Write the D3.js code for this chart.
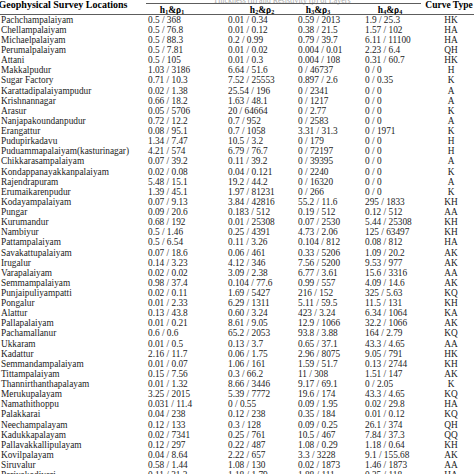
<!DOCTYPE html>
<html><head><meta charset="utf-8">
<script src="https://cdn.jsdelivr.net/npm/d3@7"></script>
<style>body{margin:0;background:#fff}text{font-family:"Liberation Serif","DejaVu Serif",serif}</style>
</head><body><svg id="t" width="474" height="474"></svg>
<script>
var locations = ["Pachchampalaiyam","Chellampalaiyam","Michaelpalaiyam","Perumalpalaiyam","Attani","Makkalpudur","Sugar Factory","Karattadipalaiyampudur","Krishnannagar","Arasur","Nanjapakoundanpudur","Erangattur","Pudupirkadavu","Puduammapalaiyam(kasturinagar)","Chikkarasampalaiyam","Kondappanayakkanpalaiyam","Rajendrapuram","Erumaikarenpudur","Kodayampalaiyam","Pungar","Kurumandur","Nambiyur","Pattampalaiyam","Savakattupalaiyam","Irugalur","Varapalaiyam","Semmampalaiyam","Punjaipuliyampatti","Pongalur","Alattur","Pallapalaiyam","Pachamallanur","Ukkaram","Kadattur","Semmandampalaiyam","Tittampalaiyam","Thannirthanthapalayam","Merukupalayam","Namathithoppu","Palakkarai","Neechampalayam","Kadukkapalayam","Pallavakkallipulayam","Kovilpalayam","Siruvalur","Periyakodiveri"];
var layer1 = ["0.5 / 368","0.5 / 76.8","0.5 / 88.3","0.5 / 7.81","0.5 / 105","1.03 / 3186","0.71 / 10.3","0.02 / 1.38","0.66 / 18.2","0.05 / 5706","0.72 / 12.2","0.08 / 95.1","1.34 / 7.47","4.21 / 574","0.07 / 39.2","0.02 / 0.08","5.48 / 15.1","1.39 / 45.1","0.07 / 9.13","0.09 / 20.6","0.68 / 192","0.5 / 1.46","0.5 / 6.54","0.07 / 18.6","0.14 / 3.23","0.02 / 0.02","0.98 / 37.4","0.02 / 0.11","0.01 / 2.33","0.13 / 43.8","0.01 / 0.21","0.6 / 0.6","0.01 / 0.5","2.16 / 11.7","0.01 / 0.07","0.15 / 7.56","0.01 / 1.32","3.25 / 2015","0.031 / 11.4","0.04 / 238","0.12 / 133","0.02 / 7341","0.12 / 297","0.04 / 8.64","0.58 / 1.44","0.11 / 31.3"];
var layer2 = ["0.01 / 0.34","0.01 / 0.12","0.2 / 0.99","0.01 / 0.02","0.01 / 0.3","6.64 / 51.6","7.52 / 25553","25.54 / 196","1.63 / 48.1","20 / 64664","0.7 / 952","0.7 / 1058","10.5 / 3.2","6.79 / 76.7","0.11 / 39.2","0.04 / 0.121","19.2 / 44.2","1.97 / 81231","3.84 / 42816","0.183 / 512","0.01 / 25308","0.25 / 4391","0.11 / 3.26","0.06 / 461","4.12 / 346","3.09 / 2.38","0.104 / 77.6","1.69 / 5427","6.29 / 1311","0.60 / 3.24","8.61 / 9.05","65.2 / 2053","0.13 / 3.7","0.06 / 1.75","1.06 / 161","0.3 / 66.2","8.66 / 3446","5.39 / 7772","0 / 0.55","0.12 / 238","0.3 / 128","0.25 / 761","0.22 / 487","2.22 / 657","1.08 / 130","1.18 / 1.79"];
var layer3 = ["0.59 / 2013","0.38 / 21.5","0.79 / 39.7","0.004 / 0.01","0.004 / 108","0 / 46737","0.897 / 2.6","0 / 2341","0 / 1217","0 / 2.77","0 / 2583","3.31 / 31.3","0 / 179","0 / 72197","0 / 39395","0 / 2240","0 / 16320","0 / 266","55.2 / 11.6","0.19 / 512","0.07 / 2530","4.73 / 2.06","0.104 / 812","0.33 / 5206","7.56 / 5200","6.77 / 3.61","0.99 / 557","216 / 152","5.11 / 59.5","423 / 3.24","12.9 / 1066","93.8 / 3.88","0.65 / 37.1","2.96 / 8075","1.59 / 51.7","11 / 308","9.17 / 69.1","19.6 / 174","0.09 / 1.95","0.35 / 184","0.09 / 0.25","10.5 / 467","1.08 / 0.29","3.3 / 3228","0.02 / 1873","1.88 / 111"];
var layer4 = ["1.9 / 25.3","1.57 / 102","6.11 / 11100","2.23 / 6.4","0.31 / 60.7","0 / 0","0 / 0.35","0 / 0","0 / 0","0 / 0","0 / 0","0 / 1971","0 / 0","0 / 0","0 / 0","0 / 0","0 / 0","0 / 0","295 / 1833","0.12 / 512","5.44 / 25308","125 / 63497","0.08 / 812","1.09 / 20.2","9.53 / 977","15.6 / 3316","4.09 / 14.6","325 / 5.63","11.5 / 131","6.34 / 1064","32.2 / 1066","164 / 2.79","43.3 / 4.65","9.05 / 791","0.13 / 2744","1.51 / 147","0 / 2.05","43.3 / 4.65","0.02 / 29.8","0.01 / 0.12","26.1 / 374","7.84 / 37.3","1.18 / 0.64","9.1 / 155.68","1.46 / 1873","0.35 / 118"];
var curveType = ["HK","HA","HA","QH","HK","H","K","A","A","K","A","K","H","H","A","K","A","K","KH","AA","KH","KH","HA","AK","AK","AA","AK","KQ","KH","KA","AK","KQ","AA","HK","KH","AK","K","KQ","HA","KQ","QH","QQ","KH","AK","AA","HA"];
var layerHeads = ["1","2","3","4"];

var svg = d3.select("#t");
var y = d3.scaleBand().domain(d3.range(locations.length)).range([14.5, 14.5 + 10.12 * locations.length]);
var xs = {loc: 1, l1: 148, l2: 228, l3: 298, l4: 365, ct: 451};
var heads = {l1: 172, l2: 262, l3: 318, l4: 390};

// header
svg.append("text").attr("x", 63).attr("y", 8).attr("text-anchor", "middle")
  .attr("font-size", 10).attr("font-weight", "bold").text("Geophysical Survey Locations");
svg.append("text").attr("x", 282).attr("y", 2.5).attr("text-anchor", "middle")
  .attr("font-size", 8).attr("fill", "#aaa").text("Thickness (h) and Resistivity (\u03c1) of Layers");
svg.append("line").attr("x1", 146).attr("x2", 421).attr("y1", 3.5).attr("y2", 3.5).attr("stroke", "#333").attr("stroke-width", 0.8);
svg.append("text").attr("x", 449).attr("y", 8).attr("text-anchor", "middle")
  .attr("font-size", 9.5).attr("font-weight", "bold").text("Curve Type");
["l1","l2","l3","l4"].forEach(function (k, i) {
  var t = svg.append("text").attr("x", heads[k]).attr("y", 12.5).attr("text-anchor", "middle")
    .attr("font-size", 9.5).attr("font-weight", "bold");
  t.append("tspan").text("h");
  t.append("tspan").attr("font-size", 6).attr("dy", 1.5).text(layerHeads[i]);
  t.append("tspan").attr("dy", -1.5).text("&\u03c1");
  t.append("tspan").attr("font-size", 6).attr("dy", 1.5).text(layerHeads[i]);
});
svg.append("line").attr("x1", 0).attr("x2", 474).attr("y1", 14.5).attr("y2", 14.5).attr("stroke", "#333").attr("stroke-width", 0.8);

var cols = [["loc", locations, "start"], ["l1", layer1, "start"], ["l2", layer2, "start"], ["l3", layer3, "start"], ["l4", layer4, "start"], ["ct", curveType, "middle"]];
cols.forEach(function (c) {
  svg.append("g").selectAll("text").data(c[1]).enter().append("text")
    .attr("x", xs[c[0]])
    .attr("y", function (d, i) { return y(i) + y.bandwidth() / 2 + 3.2; })
    .attr("text-anchor", c[2])
    .attr("font-size", 9.3)
    .attr("fill", "#222")
    .text(function (d) { return d; });
});
</script></body></html>
